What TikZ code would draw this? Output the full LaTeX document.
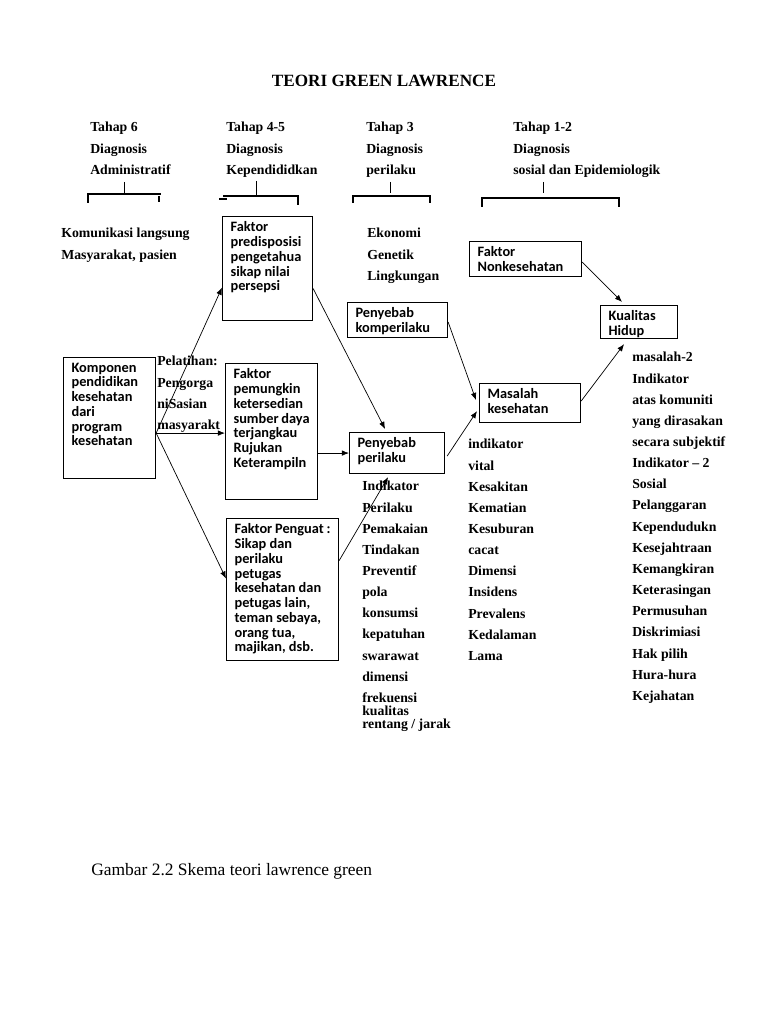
\documentclass[tikz,border=0pt]{standalone}
\usepackage{fontspec}
\setmainfont{Liberation Serif}
\newfontfamily\kotakfont{Carlito}
\usetikzlibrary{calc,arrows.meta}
\newcommand{\isi}[3]{\parbox[t][#2][t]{#1}{\raggedright #3}}

\begin{document}
\begin{tikzpicture}[x=0.025cm, y=-0.025cm,
    teks/.style={font=\bfseries\fontsize{9.8}{15.05}\selectfont, align=left, anchor=north west, inner sep=0pt},
    kotak/.style={draw, line width=0.8pt, anchor=north west, inner xsep=0.2cm, inner ysep=0.13cm,
        font=\kotakfont\bfseries\fontsize{10.2}{10.5}\selectfont},
    panah/.style={-{Latex[length=1.8mm, width=1.4mm]}, line width=0.5pt},
    kurung/.style={line width=1pt}]
    \useasboundingbox (0,0) rectangle (768,1024);

    % judul
    \node[font=\bfseries\fontsize{12.2}{14}\selectfont, inner sep=0pt] (judul) at (384,81) {TEORI GREEN LAWRENCE};

    % tahap
    \node[teks] (tahap6) at (90,122) {Tahap 6\\Diagnosis\\Administratif};
    \node[teks] (tahap45) at (226,122) {Tahap 4-5\\Diagnosis\\Kependididkan};
    \node[teks] (tahap3) at (366,122) {Tahap 3\\Diagnosis\\perilaku};
    \node[teks] (tahap12) at (513,122) {Tahap 1-2\\Diagnosis\\sosial dan Epidemiologik};

    % kurung
    \draw (124,182) -- (124,194);
    \draw[kurung] (88,203) -- (88,194) -- (161,194);
    \draw[kurung] (159,196) -- (159,202);
    \draw (256,181) -- (256,196);
    \draw[kurung] (223,196) -- (298,196) -- (298,205);
    \draw[kurung] (219,199) -- (227,199);
    \draw (390,182) -- (390,193);
    \draw[kurung] (353,203) -- (353,196) -- (430,196) -- (430,203);
    \draw (543,182) -- (543,193);
    \draw[kurung] (482,207) -- (482,198) -- (619,198) -- (619,207);

    % teks samping
    \node[teks] (komunikasi) at (61,228) {Komunikasi langsung\\Masyarakat, pasien};
    \node[teks] (ekonomi) at (367,228) {Ekonomi\\Genetik\\Lingkungan};
    \node[teks] (pelatihan) at (157,356) {Pelatihan:\\Pengorga\\niSasian\\masyarakt};

    % kotak
    \node[kotak] (komponen) at (63,357) {\isi{1.9cm}{2.765cm}{Komponen\\pendidikan\\kesehatan\\dari\\program\\kesehatan}};
    \node[kotak] (predisposisi) at (222,216) {\isi{1.85cm}{2.34cm}{Faktor\\predisposisi\\pengetahua\\sikap~nilai\\persepsi}};
    \node[kotak] (pemungkin) at (225,363) {\isi{1.9cm}{3.14cm}{Faktor\\pemungkin\\ketersedian\\sumber~daya\\terjangkau\\Rujukan\\Keterampiln}};
    \node[kotak] (penguat) at (226,518) {\isi{2.4cm}{3.29cm}{Faktor~Penguat~:\\Sikap~dan\\perilaku\\petugas\\kesehatan~dan\\petugas~lain,\\teman~sebaya,\\orang~tua,\\majikan,~dsb.}};
    \node[kotak] (komperilaku) at (347,302) {\isi{2.1cm}{0.615cm}{Penyebab\\komperilaku}};
    \node[kotak] (perilaku) at (349,432) {\isi{1.975cm}{0.765cm}{Penyebab\\perilaku}};
    \node[kotak] (nonkesehatan) at (469,241) {\isi{2.4cm}{0.615cm}{Faktor\\Nonkesehatan}};
    \node[kotak] (masalah) at (479,383) {\isi{2.125cm}{0.715cm}{Masalah\\kesehatan}};
    \node[kotak] (kualitas) at (600,305) {\isi{1.525cm}{0.565cm}{Kualitas\\Hidup}};

    % indikator
    \node[teks] (indperilaku) at (362,481) {Indikator\\Perilaku\\Pemakaian\\Tindakan\\Preventif\\pola\\konsumsi\\kepatuhan\\swarawat\\dimensi\\frekuensi\\[-0.2cm]kualitas\\[-0.2cm]rentang / jarak};
    \node[teks] (indvital) at (468,439) {indikator\\vital\\Kesakitan\\Kematian\\Kesuburan\\cacat\\Dimensi\\Insidens\\Prevalens\\Kedalaman\\Lama};
    \node[teks] (indsosial) at (632,352) {masalah-2\\Indikator\\atas komuniti\\yang dirasakan\\secara subjektif\\Indikator – 2\\Sosial\\Pelanggaran\\Kependudukn\\Kesejahtraan\\Kemangkiran\\Keterasingan\\Permusuhan\\Diskrimiasi\\Hak pilih\\Hura-hura\\Kejahatan};

    % panah
    \coordinate (fan) at ($(komponen.east)+(0,15)$);
    \draw[panah] (fan) -- ($(predisposisi.west)+(0,19)$);
    \draw[panah] (fan) -- (fan -| pemungkin.west);
    \draw[panah] (fan) -- ($(penguat.west)+(0,-11)$);
    \draw[panah] ($(predisposisi.east)+(0,20)$) -- ($(perilaku.north)+(-12,-3)$);
    \draw[panah] (perilaku.west -| pemungkin.east) -- (perilaku.west);
    \draw[panah] ($(penguat.east)+(0,-29)$) -- ($(perilaku.south)+(-9,3)$);
    \draw[panah] ($(komperilaku.east)+(0,2)$) -- ($(masalah.west)+(-3,-3)$);
    \draw[panah] ($(perilaku.east)+(2,3)$) -- ($(masalah.west)+(-2,8)$);
    \draw[panah] ($(masalah.east)+(0,-2)$) -- ($(kualitas.south)+(-15,5)$);
    \draw[panah] ($(nonkesehatan.east)+(0,3)$) -- ($(kualitas.north)+(-17,-3)$);

    % keterangan
    \node[font=\fontsize{12.4}{15}\selectfont, anchor=west, inner sep=0pt] (gambar) at (91,871) {Gambar 2.2 Skema teori lawrence green};
\end{tikzpicture}
\end{document}
